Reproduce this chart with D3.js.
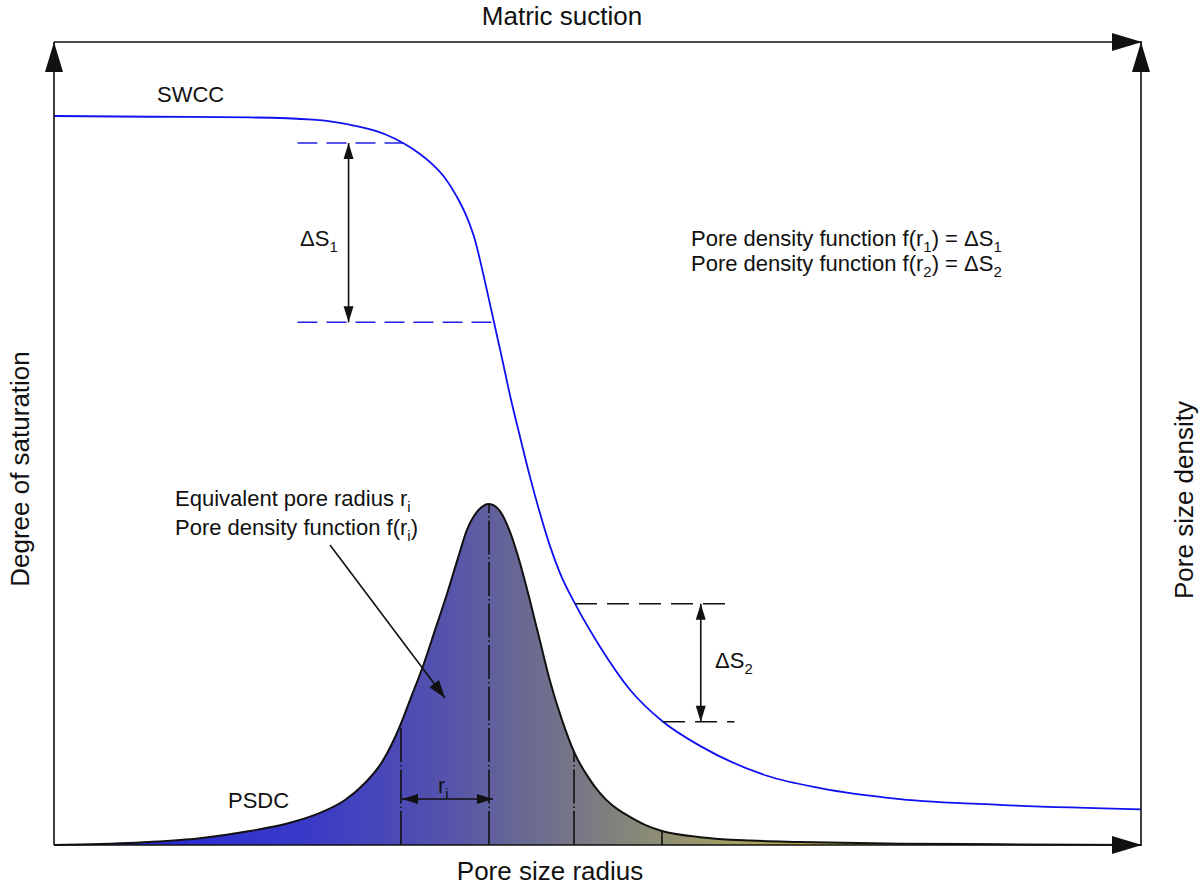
<!DOCTYPE html>
<html>
<head>
<meta charset="utf-8">
<script src="https://cdn.jsdelivr.net/npm/d3@7"></script>
<style>
  body { margin: 0; background: #fff; }
  text { font-family: "Liberation Sans", Arial, sans-serif; fill: #111; }
</style>
</head>
<body>
<svg id="chart" width="1200" height="887"></svg>
<script>

////////////////////////// DATA //////////////////////////

// SWCC: pore radius (normalised 0-100) vs degree of saturation (%)
const swccRadius = [0, 8.83, 18.03, 23.83, 28.15, 30.45, 32.11, 33.67, 34.87, 35.97, 37.07, 37.99,
  38.73, 39.37, 39.93, 40.48, 41.21, 41.95, 42.87, 43.79, 44.71, 45.63, 46.55, 47.93, 50.23, 52.99,
  56.03, 59.43, 65.59, 70.47, 77.83, 87.03, 100]
const swccSat = [100, 99.9, 99.8, 99.5, 98.5, 97.5, 96.3, 94.8, 93.3, 91.5, 88.9, 86.1,
  83.0, 79.1, 75.4, 71.7, 66.8, 61.7, 56.0, 50.5, 45.5, 41.0, 37.3, 33.1, 27.2, 21.3,
  16.9, 13.6, 9.5, 7.8, 6.3, 5.5, 4.9]

// PSDC: pore radius vs relative pore size density (peak = 100)
const psdcRadius = [0, 2.39, 8.83, 13.43, 18.03, 21.71, 24.47, 26.77, 28.61, 30.17, 31.83, 32.75,
  33.95, 35.05, 36.15, 37.17, 37.99, 38.91, 39.47, 39.93, 40.39, 41.03, 41.95, 42.87, 43.79, 44.71,
  45.63, 46.73, 47.93, 49.31, 50.23, 51.33, 52.53, 54.37, 55.93, 59.43, 64.03, 68.63, 77.83, 87.03, 100]
const psdcDensity = [0, 0.15, 0.9, 2.0, 4.1, 6.5, 9.4, 13.2, 18.2, 24.3, 34.9, 42.5,
  52.5, 63.0, 73.6, 84.2, 92.4, 97.7, 99.4, 100, 99.7, 97.9, 91.8, 82.7, 71.6, 59.8,
  48.1, 36.7, 26.7, 19.1, 15.2, 11.7, 9.1, 5.9, 4.1, 2.3, 1.3, 0.9, 0.4, 0.2, 0]

// radii marked on the PSDC
const markRadius = [31.92, 40.02, 47.84, 55.93]

const deltaS1 = [32.11, 40.48]
const deltaS2 = [47.93, 56.03]

////////////////////////// SETUP //////////////////////////

const svg = d3.select('#chart')
const plotLeft = 54, plotRight = 1141, plotBottom = 845, plotTop = 42

const xScale = d3.scaleLinear().domain([0, 100]).range([plotLeft, plotRight])
const ySat = d3.scaleLinear().domain([0, 100]).range([plotBottom, 116])
const yDen = d3.scaleLinear().domain([0, 100]).range([plotBottom, 504])

const swcc = swccRadius.map((r, i) => ({ r, v: swccSat[i] }))
const psdc = psdcRadius.map((r, i) => ({ r, v: psdcDensity[i] }))

// gradient of the PSDC fill (blue -> olive)
const grad = svg.append('defs').append('linearGradient')
  .attr('id', 'psdcFill')
  .attr('gradientUnits', 'userSpaceOnUse')
  .attr('x1', plotLeft).attr('x2', 900).attr('y1', 0).attr('y2', 0)
const stops = [[0, '#2020e0'], [0.3, '#3a3ac8'], [0.47, '#5654aa'], [0.56, '#6a6a92'],
  [0.64, '#7c7c82'], [0.74, '#939370'], [0.88, '#b4ac4c'], [1, '#c4b834']]
grad.selectAll('stop').data(stops).enter().append('stop')
  .attr('offset', d => d[0]).attr('stop-color', d => d[1])

// y of a path at a given pixel x (binary search along the path)
const yOnPath = (node, px) => {
  let lo = 0, hi = node.getTotalLength()
  for (let k = 0; k < 40; k++) {
    const mid = (lo + hi) / 2
    if (node.getPointAtLength(mid).x < px) lo = mid; else hi = mid
  }
  return node.getPointAtLength(lo).y
}

// arrow helper: line with filled heads
const arrow = (x1, y1, x2, y2, heads, len = 16, half = 5) => {
  svg.append('line')
    .attr('x1', x1).attr('y1', y1).attr('x2', x2).attr('y2', y2)
    .attr('stroke', '#111').attr('stroke-width', 1.6)
  const ang = Math.atan2(y2 - y1, x2 - x1)
  const head = (tx, ty, a) => {
    const bx = tx - len * Math.cos(a), by = ty - len * Math.sin(a)
    const px = -Math.sin(a) * half, py = Math.cos(a) * half
    svg.append('polygon')
      .attr('points', `${tx},${ty} ${bx + px},${by + py} ${bx - px},${by - py}`)
      .attr('fill', '#111')
  }
  if (heads.includes('end')) head(x2, y2, ang)
  if (heads.includes('start')) head(x1, y1, ang + Math.PI)
}

// text with subscripts: parts = [[string, isSub], ...]
const label = (x, y, parts, size = 22, anchor = 'start', rotate = 0) => {
  const t = svg.append('text')
    .attr('transform', `translate(${x},${y}) rotate(${rotate})`)
    .attr('font-size', size).attr('text-anchor', anchor)
  let sub = false
  parts.forEach(([s, isSub]) => {
    const sp = t.append('tspan').text(s)
    if (isSub && !sub) sp.attr('dy', 6).attr('font-size', size * 0.68)
    if (!isSub && sub) sp.attr('dy', -6)
    sub = isSub
  })
}

////////////////////////// PSDC //////////////////////////

const area = d3.area().x(d => xScale(d.r)).y0(plotBottom).y1(d => yDen(d.v)).curve(d3.curveMonotoneX)
const line = d3.line().x(d => xScale(d.r)).y(d => yDen(d.v)).curve(d3.curveMonotoneX)

svg.append('path').datum(psdc).attr('d', area).attr('fill', 'url(#psdcFill)')
const psdcPath = svg.append('path').datum(psdc).attr('d', line)
  .attr('fill', 'none').attr('stroke', '#111').attr('stroke-width', 2)

markRadius.forEach((r, i) => {
  const px = xScale(r)
  svg.append('line')
    .attr('x1', px).attr('x2', px).attr('y1', plotBottom)
    .attr('y2', yOnPath(psdcPath.node(), px))
    .attr('stroke', '#111').attr('stroke-width', 1.6)
    .attr('stroke-dasharray', i < 3 ? '34,3,1.5,3' : null)
})

// r_i span
arrow(xScale(markRadius[0]) + 1, yDen(13.5), xScale(markRadius[1]) + 4, yDen(13.5), ['start', 'end'])
label(438, 793, [['r', false], ['i', true]])

////////////////////////// SWCC //////////////////////////

const swccLine = d3.line().x(d => xScale(d.r)).y(d => ySat(d.v)).curve(d3.curveMonotoneX)
const swccPath = svg.append('path').datum(swcc).attr('d', swccLine)
  .attr('fill', 'none').attr('stroke', '#1010f0').attr('stroke-width', 1.8)

// dS1 (blue dashes)
const s1 = deltaS1.map(r => yOnPath(swccPath.node(), xScale(r)))
deltaS1.forEach((r, i) => {
  svg.append('line')
    .attr('x1', xScale(22.4)).attr('x2', xScale(r)).attr('y1', s1[i]).attr('y2', s1[i])
    .attr('stroke', '#2020e8').attr('stroke-width', 1.4).attr('stroke-dasharray', '20,9')
})
arrow(xScale(27.1), s1[0], xScale(27.1), s1[1], ['start', 'end'])
label(300, 246, [['ΔS', false], ['1', true]])

// dS2 (black dashes)
const s2 = deltaS2.map(r => yOnPath(swccPath.node(), xScale(r)))
deltaS2.forEach((r, i) => {
  svg.append('line')
    .attr('x1', xScale(r)).attr('x2', xScale(62.6)).attr('y1', s2[i]).attr('y2', s2[i])
    .attr('stroke', '#111').attr('stroke-width', 1.4).attr('stroke-dasharray', '22,10')
})
arrow(xScale(59.5), s2[0], xScale(59.5), s2[1], ['start', 'end'])
label(715, 668, [['ΔS', false], ['2', true]])

////////////////////////// AXES FRAME //////////////////////////

const frame = [
  [plotLeft, plotBottom, plotLeft, plotTop], [plotLeft, plotTop, plotRight + 1, plotTop],
  [plotRight, plotBottom, plotRight, plotTop], [plotLeft, plotBottom, plotRight + 1, plotBottom]
]
frame.forEach(f => arrow(f[0], f[1], f[2], f[3], ['end'], 30, 9))

label(562, 25, [['Matric suction', false]], 26, 'middle')
label(550, 880, [['Pore size radius', false]], 26, 'middle')
label(29, 469, [['Degree of saturation', false]], 26, 'middle', -90)
label(1193, 500, [['Pore size density', false]], 26, 'middle', -90)

////////////////////////// ANNOTATIONS //////////////////////////

label(157, 102, [['SWCC', false]])
label(228, 808, [['PSDC', false]])

label(175, 506, [['Equivalent pore radius r', false], ['i', true]])
label(175, 535, [['Pore density function f(r', false], ['i', true], [')', false]])
arrow(330, 545, 445, 698, ['end'], 18, 6)

label(691, 246, [['Pore density function f(r', false], ['1', true], [') = ΔS', false], ['1', true]])
label(691, 271, [['Pore density function f(r', false], ['2', true], [') = ΔS', false], ['2', true]])

</script>
</body>
</html>
